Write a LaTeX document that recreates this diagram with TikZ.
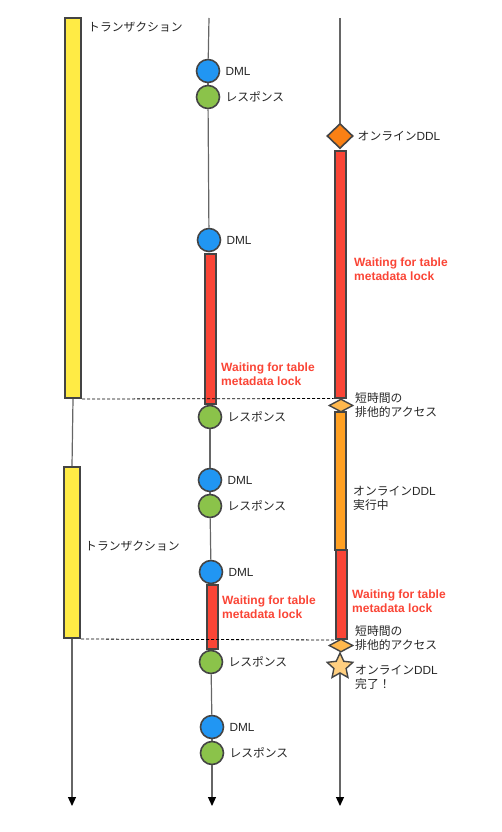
\documentclass[tikz,border=0pt]{standalone}
\usepackage{fontspec}
\setmainfont{Liberation Sans}
\newfontfamily\jp{Noto Sans CJK JP}
\usetikzlibrary{arrows.meta,positioning,shapes.geometric}
\definecolor{edge}{HTML}{444444}
\definecolor{trxyellow}{HTML}{FFEB45}
\definecolor{waitred}{HTML}{FA4536}
\definecolor{dmlblue}{HTML}{2196F3}
\definecolor{respgreen}{HTML}{8BC34A}
\definecolor{ddlorange}{HTML}{FA8014}
\definecolor{runorange}{HTML}{FFA022}
\definecolor{exorange}{HTML}{FFB84D}
\definecolor{donestar}{HTML}{FFCF80}
\tikzset{
  life/.style={draw=black!60,line width=1.2pt},
  lifeend/.style={life,-{Triangle[length=9pt,width=8pt,color=black]}},
  evt/.style={circle,draw=edge,line width=1.6pt,minimum size=23pt,inner sep=0pt},
  dml/.style={evt,fill=dmlblue},
  resp/.style={evt,fill=respgreen},
  bar/.style={draw=edge,line width=2pt,inner sep=0pt,minimum width=11pt},
  trxbar/.style={bar,fill=trxyellow,minimum width=16pt},
  waitbar/.style={bar,fill=waitred},
  runbar/.style={bar,fill=runorange},
  ddlstart/.style={diamond,draw=edge,line width=1.6pt,fill=ddlorange,inner sep=0pt,minimum width=26pt,minimum height=25pt},
  exlock/.style={diamond,draw=edge,line width=1.4pt,fill=exorange,inner sep=0pt,minimum width=24pt,minimum height=13pt},
  ddldone/.style={star,star points=5,star point ratio=2.1,draw=edge,line width=1.4pt,fill=donestar,inner sep=0pt,minimum size=27pt},
  lbl/.style={font=\fontsize{11.8}{14}\selectfont,text=black!85,inner sep=3pt,align=left},
  waitlbl/.style={lbl,font=\fontsize{12}{14}\selectfont\bfseries,text=waitred},
  sync/.style={draw=black,line width=0.8pt,dash pattern=on 3pt off 2pt}
}

\begin{document}
\begin{tikzpicture}[x=1pt,y=-1pt]
\useasboundingbox (0,0) rectangle (501,832);
% transaction
\node[trxbar,minimum height=380pt] (trx1) at (73,208) {};
\node[trxbar,minimum height=171pt] (trx2) at (72,552.5) {};
\coordinate (lend) at (72,806);
\node[lbl,anchor=west] at (85,27) {\jp トランザクション};
\node[lbl,anchor=west] at (82,546) {\jp トランザクション};
\draw[life] (trx1.south) -- (trx2.north);
\draw[lifeend] (trx2.south) -- (lend);
% DML session
\coordinate (mtop) at (209,18);
\node[dml] (dml1) at (208,71) {};
\node[resp] (resp1) at (208,97) {};
\node[dml] (dml2) at (209,240) {};
\node[waitbar,minimum height=150pt] (wait2) at (210,328.5) {};
\node[resp] (resp2) at (210,417) {};
\node[dml] (dml3) at (210,480) {};
\node[resp] (resp3) at (210,506) {};
\node[dml] (dml4) at (211,572) {};
\node[waitbar,minimum height=64pt] (wait4) at (212,617) {};
\node[resp] (resp4) at (211,662) {};
\node[dml] (dml5) at (212,727) {};
\node[resp] (resp5) at (212,753) {};
\coordinate (mend) at (212,806);
\draw[life] (mtop) -- (dml1); \draw[life] (dml1) -- (resp1); \draw[life] (resp1) -- (dml2);
\draw[life] (resp2) -- (dml3); \draw[life] (dml3) -- (resp3); \draw[life] (resp3) -- (dml4);
\draw[life] (resp4) -- (dml5); \draw[life] (dml5) -- (resp5); \draw[lifeend] (resp5) -- (mend);
\foreach \n in {1,...,5} {
  \node[lbl,right=2pt of dml\n] {DML};
  \node[lbl,right=2pt of resp\n] {\jp レスポンス};
}
\node[waitlbl,anchor=west] at (218,374) {Waiting for table\\metadata lock};
\node[waitlbl,anchor=west] at (219,607) {Waiting for table\\metadata lock};
% online DDL
\coordinate (rtop) at (340,18);
\node[ddlstart] (ddl) at (340,136) {};
\node[waitbar,minimum height=247pt] (ddlwait1) at (340,274) {};
\node[exlock] (ex1) at (341,405.5) {};
\node[runbar,minimum height=138pt] (ddlrun) at (340.5,481) {};
\node[waitbar,minimum height=89pt] (ddlwait2) at (341,594.5) {};
\node[exlock] (ex2) at (341,645.5) {};
\node[ddldone] (done) at (340,666.5) {};
\coordinate (rend) at (340,806);
\draw[life] (rtop) -- (ddl.north);
\draw[lifeend] (done.south) -- (rend);
\node[lbl,anchor=west] at (354.5,136) {{\jp オンライン}DDL};
\node[waitlbl,anchor=west] at (351,269) {Waiting for table\\metadata lock};
\node[lbl,anchor=west] at (352,405) {\jp 短時間の\\\jp 排他的アクセス};
\node[lbl,anchor=west] at (350,498) {{\jp オンライン}DDL\\\jp 実行中};
\node[waitlbl,anchor=west] at (349,601.5) {Waiting for table\\metadata lock};
\node[lbl,anchor=west] at (352,638.5) {\jp 短時間の\\\jp 排他的アクセス};
\node[lbl,anchor=west] at (352,677) {{\jp オンライン}DDL\\\jp 完了！};
% lock handover
\draw[sync] (trx1.south east) -- (ddlwait1.south west);
\draw[sync] (trx2.south east) -- (ddlwait2.south west);
\end{tikzpicture}
\end{document}
